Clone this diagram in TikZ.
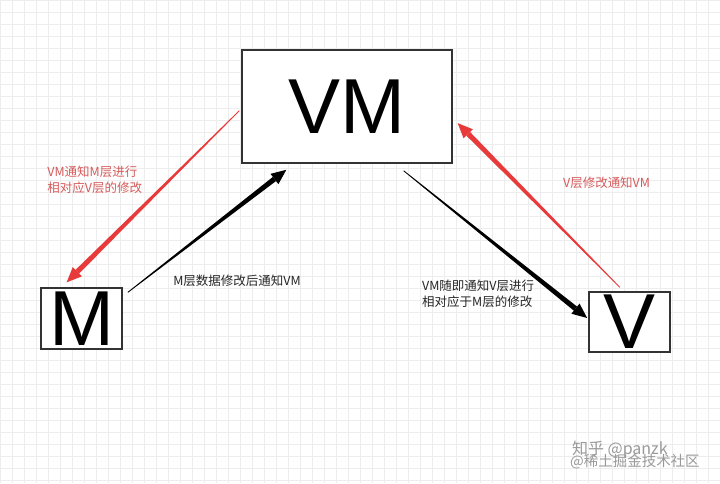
\documentclass[tikz,border=0pt]{standalone}
\usepackage{fontspec}
\setmainfont{Liberation Sans}
\newfontfamily\cjk{Noto Sans CJK SC}
\usetikzlibrary{calc,arrows.meta}
\definecolor{arrowred}{RGB}{232,58,58}
\definecolor{textred}{RGB}{214,90,90}
\definecolor{boxline}{RGB}{51,51,51}
\newcommand{\taper}[3]{%
  \coordinate (h) at ($(#3)!15pt!(#2)$);
  \fill[#1] ($(#2)!0.4pt!90:(#3)$) -- ($(h)!2.6pt!90:(#3)$) -- ($(h)!2.6pt!-90:(#3)$) -- ($(#2)!0.4pt!-90:(#3)$) -- cycle;
  \fill[#1] (#3) -- ($(h)!6.5pt!90:(#3)$) -- ($(h)!6.5pt!-90:(#3)$) -- cycle;}

\begin{document}
\begin{tikzpicture}[x=1pt,y=-1pt,
  box/.style={draw=boxline,line width=1.4pt,fill=white,inner sep=0pt,font=\fontsize{78}{78}\selectfont},
  lbl/.style={font=\cjk\fontsize{12.5}{16}\selectfont,align=left,inner sep=0pt,anchor=west,text=black!85},
  mark/.style={font=\cjk\fontsize{#1}{#1}\selectfont,text=black!40,inner sep=0pt,anchor=west}]
\fill[white] (0,0) rectangle (720,483);
\draw[black!7,step=12pt] (0,0) grid (720,483);
\useasboundingbox (0,0) rectangle (720,483);
\node[box,minimum width=210,minimum height=113] (VM) at (347,106.5) {VM};
\node[box,minimum width=81,minimum height=61] (M) at (81.5,318.5) {M};
\node[box,minimum width=81,minimum height=60] (V) at (629.5,322) {V};
\node[lbl,text=textred] (vmm) at (47,180) {VM通知M层进行\\相对应V层的修改};
\node[lbl] (mvm) at (173,281) {M层数据修改后通知VM};
\node[lbl] (vmv) at (422,294) {VM随即通知V层进行\\相对应于M层的修改};
\node[lbl,text=textred] (vvm) at (563,183) {V层修改通知VM};
\node[mark=16] (wm1) at (572,450) {知乎 @panzk};
\node[mark=14.5] (wm2) at (570,462) {@稀土掘金技术社区};
\coordinate (a1) at ([shift={(-2,4)}]VM.west);
\coordinate (a2) at ([shift={(-15,-5)}]M.north);
\coordinate (b1) at ([shift={(5,5)}]M.north east);
\coordinate (b2) at ([shift={(45,6)}]VM.south west);
\coordinate (c1) at ([shift={(-49,7)}]VM.south east);
\coordinate (c2) at ([shift={(-1,-4)}]V.west);
\coordinate (d1) at ([shift={(-9.5,-4)}]V.north);
\coordinate (d2) at ([shift={(5,16.5)}]VM.east);
\taper{arrowred}{a1}{a2}
\taper{black}{b1}{b2}
\taper{black}{c1}{c2}
\taper{arrowred}{d1}{d2}
\end{tikzpicture}
\end{document}
